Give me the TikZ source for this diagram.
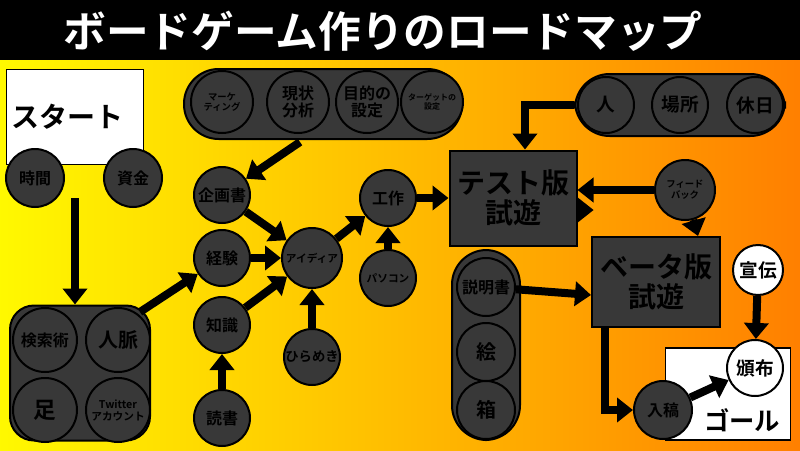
\documentclass[tikz,border=0pt]{standalone}
\usepackage{fontspec}
\setmainfont{Noto Sans CJK JP}[BoldFont={* Bold}]
\usetikzlibrary{arrows.meta,calc}
\definecolor{dk}{HTML}{383838}
\tikzset{
 circ/.style={circle,draw=black,line width=1.5pt,fill=dk,minimum size=#1*0.75pt,inner sep=0pt,font=\bfseries\fontsize{12}{13}\selectfont,align=center,text=black},
 circ/.default=58,
 pill/.style={draw=black,line width=1.5pt,fill=dk,rounded corners=#1},
 bigbox/.style={draw=black,line width=1.5pt,fill=dk,font=\bfseries\fontsize{21}{23}\selectfont,align=center,text=black},
 wbox/.style={draw=black,line width=1pt,fill=white},
 arr/.style={line width=6pt,-{Triangle[length=12pt,width=18pt]}},
 sm/.style={font=\bfseries\fontsize{7}{8}\selectfont}
}
\begin{document}
\begin{tikzpicture}[x=0.75pt,y=-0.75pt]
\useasboundingbox (0,0) rectangle (800,450);
\shade[left color=yellow!95!orange,right color=orange] (0,0) rectangle (800,450);
\fill[black] (0,0) rectangle (800,60);
\node[text=white,font=\bfseries\fontsize{32}{33}\selectfont] (title) at (383,31) {ボードゲーム作りのロードマップ};
% start
\node[wbox,minimum width=135*0.75pt,minimum height=95*0.75pt,font=\bfseries\fontsize{21}{22}\selectfont] (start) at (75,117) {スタート\\[-6pt]\phantom{x}};
\node[circ] (jikan) at (35,178) {時間};
\node[circ] (shikin) at (133,178) {資金};
% left box
\node[pill=18pt,minimum width=140*0.75pt,minimum height=135*0.75pt] (lbox) at (80,373) {};
\node[circ=64] (kensaku) at (45,340) {検索術};
\node[circ=64,font=\bfseries\fontsize{15}{16}\selectfont] (jinmyaku) at (118,340) {人脈};
\node[circ=64,font=\bfseries\fontsize{17}{18}\selectfont] (ashi) at (45,410) {足};
\node[circ=64,font=\bfseries\fontsize{8}{9}\selectfont] (tw) at (118,410) {Twitter\\アカウント};
% top pill
\node[pill=26pt,minimum width=278*0.75pt,minimum height=70*0.75pt] (tpill) at (323,104) {};
\node[circ=62,sm] (mk) at (222,102) {マーケ\\ティング};
\node[circ=62] (gj) at (298,102) {現状\\分析};
\node[circ=62] (mt) at (367,102) {目的の\\設定};
\node[circ=62,font=\bfseries\fontsize{6}{7}\selectfont] (tg) at (432,102) {ターゲットの\\設定};
% middle
\node[circ=56] (kikaku) at (222,195) {企画書};
\node[circ=56] (keiken) at (222,258) {経験};
\node[circ=56] (chishiki) at (222,325) {知識};
\node[circ=56] (dokusho) at (222,418) {読書};
\node[circ=56,font=\bfseries\fontsize{10}{11}\selectfont] (hirameki) at (312,357) {ひらめき};
\node[circ=60,font=\bfseries\fontsize{8}{9}\selectfont] (idea) at (312,258) {アイディア};
\node[circ=56] (kosaku) at (388,198) {工作};
\node[circ=56,font=\bfseries\fontsize{8}{9}\selectfont] (pc) at (388,278) {パソコン};
% test
\node[bigbox,minimum width=127*0.75pt,minimum height=95*0.75pt] (test) at (513,198) {テスト版\\試遊};
\node[circ=60,sm] (fb) at (685,190) {フィード\\バック};
\node[pill=26pt,minimum width=210*0.75pt,minimum height=62*0.75pt] (rpill) at (680,105) {};
\node[circ=56,font=\bfseries\fontsize{14}{15}\selectfont] (hito) at (606,105) {人};
\node[circ=56,font=\bfseries\fontsize{14}{15}\selectfont] (basho) at (680,105) {場所};
\node[circ=56,font=\bfseries\fontsize{14}{15}\selectfont] (kyujitsu) at (755,105) {休日};
\node[bigbox,minimum width=128*0.75pt,minimum height=90*0.75pt] (beta) at (656,282) {ベータ版\\試遊};
\node[pill=26pt,minimum width=68*0.75pt,minimum height=190*0.75pt] (dpill) at (486,345) {};
\node[circ=58] (setsumei) at (486,287) {説明書};
\node[circ=58,font=\bfseries\fontsize{15}{16}\selectfont] (e) at (486,352) {絵};
\node[circ=58,font=\bfseries\fontsize{15}{16}\selectfont] (hako) at (486,410) {箱};
% goal
\node[wbox,minimum width=125*0.75pt,minimum height=92*0.75pt] (goal) at (728,394) {};
\node[font=\bfseries\fontsize{19}{20}\selectfont] (goalt) at (742,420) {ゴール};
\node[circ=50,fill=white,font=\bfseries\fontsize{14}{15}\selectfont] (senden) at (758,270) {宣伝};
\node[circ=56,fill=white,font=\bfseries\fontsize{14}{15}\selectfont] (hanpu) at (755,368) {頒布};
\node[circ=58] (nyuko) at (663,410) {入稿};
% arrows
\coordinate (c1) at (75,198);
\coordinate (c2) at (140,312);
\coordinate (c3) at (300,142);
\coordinate (c4) at (525,0);
\coordinate (c5) at (0,210);
\coordinate (c6) at (698,0);
\coordinate (c7) at (0,295);
\coordinate (c8) at (605,0);
\draw[arr] (c1) -- (lbox.north-|c1);
\draw[arr] (c2) -- (keiken);
\draw[arr] (c3) -- (kikaku);
\draw[arr] (kikaku) -- (idea);
\draw[arr] (keiken) -- (idea);
\draw[arr] (chishiki) -- (idea);
\draw[arr] (dokusho) -- (chishiki);
\draw[arr] (hirameki) -- (idea);
\draw[arr] (idea) -- (kosaku);
\draw[arr] (pc) -- (kosaku);
\draw[arr] (kosaku) -- (test.west|-kosaku);
\draw[arr] (rpill.west) -| (test.north-|c4);
\draw[arr] (fb.west) -- (test.east|-fb.west);
\draw[arr] (test.east|-c5) -- ([xshift=2pt]beta.north west|-c5);
\draw[arr] (fb) -- (beta.north-|c6);
\draw[arr] (setsumei) -- (beta.west|-c7);
\draw[arr] (beta.south-|c8) |- (nyuko);
\draw[arr] (nyuko) -- (hanpu);
\draw[arr] (senden) -- (hanpu);
\end{tikzpicture}
\end{document}
